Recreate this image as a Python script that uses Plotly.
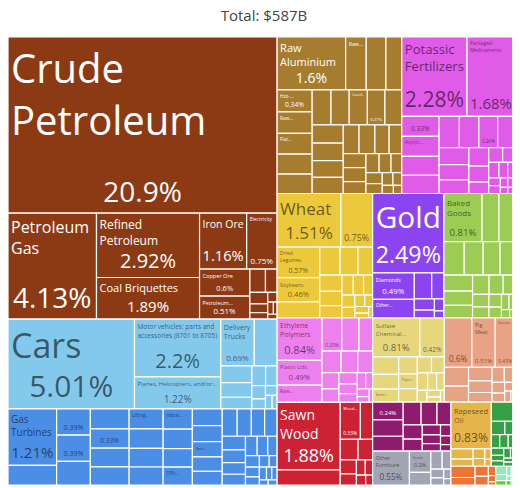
import math
import plotly.graph_objects as go

# export shares (% of total)
mineral_names = ["Crude<br>Petroleum", "Petroleum<br>Gas", "Refined<br>Petroleum", "Coal Briquettes",
                 "Iron Ore", "Electricity", "Copper Ore", "Petroleum...",
                 None, None, None, None, None, None, None, None, None]
mineral_vals = [20.9, 4.13, 2.92, 1.89, 1.16, 0.75, 0.6, 0.51,
                0.16, 0.12, 0.09, 0.07, 0.05, 0.04, 0.03, 0.02, 0.02]

transport_names = ["Cars", "Motor vehicles; parts and<br>accessories (8701 to 8705)",
                   "Planes, Helicopters, and/or...", "Delivery<br>Trucks",
                   None, None, None, None, None, None, None, None, None, None, None]
transport_vals = [5.01, 2.2, 1.22, 0.69, 0.47, 0.23, 0.2, 0.16, 0.12, 0.1, 0.08, 0.06, 0.05, 0.04, 0.03]

machine_names = ["Gas<br>Turbines", None, " ", " ", None, None, " ", None, None, "Lifting...",
                 None, None, None, "Indust...", None, None, "Offic...", None, None, "Swit...",
                 None, None, None, None, None, None, None, None, None, None, None, None,
                 None, None, None, None, None, None, None, None, None, None, None]
machine_vals = [1.21, 0.42, 0.39, 0.39, 0.35, 0.34, 0.33, 0.32, 0.31, 0.3,
                0.29, 0.28, 0.27, 0.26, 0.25, 0.24, 0.23, 0.22, 0.21, 0.2,
                0.19, 0.18, 0.18, 0.17, 0.16, 0.15, 0.14, 0.13, 0.12, 0.11,
                0.1, 0.09, 0.08, 0.07, 0.06, 0.05, 0.05, 0.04, 0.04, 0.03, 0.03, 0.02, 0.02]

metal_names = ["Raw<br>Aluminium", "Raw...", None, None, "Hot-...", "Raw...", "Flat...", None, None,
               None, None, "Coated...", " ", None, None, None, None, None, None, None, None,
               None, None, None, None, None, None, None, None, None, None, None, None, None]
metal_vals = [1.6, 0.48, 0.46, 0.37, 0.34, 0.33, 0.32, 0.31, 0.3, 0.29, 0.28, 0.28, 0.27,
              0.26, 0.25, 0.24, 0.23, 0.22, 0.2, 0.2, 0.18, 0.16, 0.14, 0.14, 0.12, 0.11,
              0.1, 0.09, 0.08, 0.07, 0.06, 0.05, 0.04, 0.03]

chem_names = ["Potassic<br>Fertilizers", "Packaged<br>Medicaments", " ", "Acyclic...", None, None,
              None, None, " ", None, None, None, None, None, None, None, None, None, None,
              None, None, None, None, None, None, None, None]
chem_vals = [2.28, 1.68, 0.33, 0.33, 0.31, 0.3, 0.28, 0.27, 0.26, 0.24, 0.22, 0.2, 0.18, 0.16,
             0.14, 0.1, 0.09, 0.08, 0.07, 0.06, 0.05, 0.04, 0.04, 0.03, 0.03, 0.02, 0.02]

veg_names = ["Wheat", " ", "Dried<br>Legumes", "Soybeans"] + [None] * 17
veg_vals = [1.51, 0.75, 0.57, 0.46, 0.3, 0.25, 0.22, 0.18, 0.16, 0.14, 0.12, 0.1,
            0.09, 0.08, 0.07, 0.06, 0.05, 0.04, 0.04, 0.03, 0.02]

precious_names = ["Gold", "Diamonds", "Other...", None, None, None, None, None, None]
precious_vals = [2.49, 0.49, 0.34, 0.2, 0.14, 0.1, 0.07, 0.05, 0.03]

food_names = ["Baked<br>Goods"] + [None] * 20
food_vals = [0.81, 0.36, 0.34, 0.3, 0.28, 0.25, 0.22, 0.2, 0.18, 0.16, 0.14, 0.12,
             0.1, 0.09, 0.08, 0.07, 0.06, 0.05, 0.04, 0.03, 0.02]

plastic_names = ["Ethylene<br>Polymers", "Plastic Lids", "Raw...", " "] + [None] * 15
plastic_vals = [0.84, 0.49, 0.34, 0.29, 0.25, 0.2, 0.18, 0.16, 0.14, 0.12, 0.1,
                0.09, 0.08, 0.07, 0.06, 0.05, 0.04, 0.03, 0.02]

wood_names = ["Sawn<br>Wood", None, "Wood..."] + [None] * 9
wood_vals = [1.88, 0.42, 0.33, 0.2, 0.16, 0.13, 0.1, 0.08, 0.06, 0.05, 0.04, 0.03]

paper_names = ["Sulfate<br>Chemical...", " ", None, None, "Semi...", None, "Paper..."] + [None] * 10
paper_vals = [0.81, 0.42, 0.2, 0.17, 0.15, 0.14, 0.12, 0.11, 0.1, 0.09, 0.08, 0.07,
              0.06, 0.05, 0.04, 0.03, 0.02]

animal_names = [" ", "Pig<br>Meat", "Bovine..."] + [None] * 12
animal_vals = [0.6, 0.51, 0.43, 0.2, 0.17, 0.14, 0.12, 0.1, 0.08, 0.07, 0.06, 0.05, 0.04, 0.03, 0.02]

instrument_names = [" "] + [None] * 13
instrument_vals = [0.24, 0.22, 0.2, 0.18, 0.16, 0.14, 0.12, 0.1, 0.08, 0.07, 0.06, 0.05, 0.04, 0.03]

misc_names = ["Other<br>Furniture", "Seats"] + [None] * 7
misc_vals = [0.55, 0.2, 0.12, 0.09, 0.07, 0.05, 0.04, 0.03, 0.02]

oil_names = ["Rapeseed<br>Oil"] + [None] * 6
oil_vals = [0.83, 0.1, 0.07, 0.05, 0.04, 0.03, 0.02]

textile_vals = [0.2, 0.08, 0.06, 0.05, 0.05, 0.04, 0.04, 0.03, 0.03, 0.03, 0.02, 0.02, 0.02]
hides_vals = [0.12, 0.08, 0.06, 0.05, 0.03, 0.02, 0.01]
stone_vals = [0.04, 0.03, 0.02, 0.01]
footwear_vals = [0.02, 0.01]
weapons_vals = [0.02, 0.01]

DARK = "rgba(0,0,0,0.58)"
sectors = [
    ("Mineral Products", "#8c3a13", "white", mineral_names, mineral_vals),
    ("Transportation", "#83c9ec", DARK, transport_names, transport_vals),
    ("Machines", "#4b8ee6", DARK, machine_names, machine_vals),
    ("Metals", "#a67c2e", "white", metal_names, metal_vals),
    ("Chemical Products", "#e05be8", DARK, chem_names, chem_vals),
    ("Vegetable Products", "#ecc93a", DARK, veg_names, veg_vals),
    ("Precious Metals", "#8a45f0", "white", precious_names, precious_vals),
    ("Foodstuffs", "#9ccc53", DARK, food_names, food_vals),
    ("Plastics and Rubbers", "#ee7fee", DARK, plastic_names, plastic_vals),
    ("Wood Products", "#cc2233", "white", wood_names, wood_vals),
    ("Paper Goods", "#e6d77d", DARK, paper_names, paper_vals),
    ("Animal Products", "#e8a385", DARK, animal_names, animal_vals),
    ("Instruments", "#8e1b6e", "white", instrument_names, instrument_vals),
    ("Miscellaneous", "#a2a6b4", DARK, misc_names, misc_vals),
    ("Animal and Vegetable Bi-Products", "#e5b54a", DARK, oil_names, oil_vals),
    ("Textiles", "#35a046", "white", [None] * len(textile_vals), textile_vals),
    ("Animal Hides", "#ec7434", "white", [None] * len(hides_vals), hides_vals),
    ("Stone And Glass", "#8eebbe", DARK, [None] * len(stone_vals), stone_vals),
    ("Footwear and Headwear", "#5ccf3a", DARK, [None] * len(footwear_vals), footwear_vals),
    ("Weapons", "#4b4b7a", "white", [None] * len(weapons_vals), weapons_vals),
]

# font sizes of the bigger tiles, the rest follow a rule by share
LABEL_SIZE = {"Crude<br>Petroleum": 40, "Petroleum<br>Gas": 16, "Refined<br>Petroleum": 12,
              "Coal Briquettes": 11, "Iron Ore": 11, "Cars": 34, "Gold": 30,
              "Potassic<br>Fertilizers": 15, "Wheat": 17, "Sawn<br>Wood": 14,
              "Raw<br>Aluminium": 11, "Gas<br>Turbines": 10, "Delivery<br>Trucks": 8,
              "Motor vehicles; parts and<br>accessories (8701 to 8705)": 8,
              "Planes, Helicopters, and/or...": 6, "Packaged<br>Medicaments": 5, "Electricity": 5,
              "Rapeseed<br>Oil": 8, "Ethylene<br>Polymers": 7, "Baked<br>Goods": 8,
              "Dried<br>Legumes": 5}
PCT_SIZE = {"Crude<br>Petroleum": 28, "Petroleum<br>Gas": 28, "Refined<br>Petroleum": 20,
            "Coal Briquettes": 15, "Iron Ore": 16, "Cars": 30, "Gold": 27,
            "Potassic<br>Fertilizers": 26, "Wheat": 17, "Sawn<br>Wood": 18,
            "Raw<br>Aluminium": 14, "Gas<br>Turbines": 15, "Packaged<br>Medicaments": 15,
            "Motor vehicles; parts and<br>accessories (8701 to 8705)": 20,
            "Planes, Helicopters, and/or...": 10, "Electricity": 8, "Delivery<br>Trucks": 8,
            "Rapeseed<br>Oil": 13, "Ethylene<br>Polymers": 11, "Copper Ore": 7.5,
            "Dried<br>Legumes": 7}
NO_PCT = {"Raw...", "Flat...", "Coated...", "Acyclic...", "Other...", "Lifting...",
          "Indust...", "Offic...", "Swit...", "Semi...", "Paper..."}

ids, parents, labels, values, colours = [], [], [], [], []
name_text, pct_text, name_size, pct_size, text_col = [], [], [], [], []
for sector, colour, tcol, names, vals in sectors:
    ids.append(sector)
    parents.append("")
    labels.append(sector)
    values.append(0)
    colours.append(colour)
    name_text.append("")
    pct_text.append("")
    name_size.append(8)
    pct_size.append(8)
    text_col.append(tcol)
    for i, (n, v) in enumerate(zip(names, vals)):
        ids.append(f"{sector}/{i}")
        parents.append(sector)
        labels.append(n.replace("<br>", " ") if n and n.strip() else f"{sector} {i + 1}")
        values.append(v)
        colours.append(colour)
        text_col.append(tcol)
        if n is None:
            name_text.append("")
            pct_text.append("")
        else:
            name_text.append(n)
            pct_text.append("" if n in NO_PCT else f"{v:g}%")
        name_size.append(LABEL_SIZE.get(n, min(8, 2.5 + 4 * math.sqrt(v))))
        pct_size.append(PCT_SIZE.get(n, min(12, 1.5 + 9 * math.sqrt(v))))

common = dict(
    ids=ids, labels=labels, parents=parents, values=values,
    branchvalues="remainder", sort=True,
    tiling=dict(packing="squarify", squarifyratio=1.618, pad=0),
    pathbar=dict(visible=False),
    textinfo="text",
)

fig = go.Figure()
fig.add_trace(go.Treemap(
    **common,
    text=name_text,
    textposition="top left",
    textfont=dict(family="Open Sans", size=name_size, color=text_col),
    marker=dict(colors=colours, line=dict(color="white", width=1.2),
                pad=dict(t=0, l=0, r=0, b=0)),
    hoverinfo="skip",
))
fig.add_trace(go.Treemap(
    **common,
    text=pct_text,
    textposition="bottom center",
    textfont=dict(family="Open Sans", size=pct_size, color=text_col),
    marker=dict(colors=["rgba(0,0,0,0)"] * len(ids), line=dict(width=0),
                pad=dict(t=0, l=0, r=0, b=0)),
    hovertemplate="%{label}<br>%{value}%<extra></extra>",
))

# the page body keeps its 8px margin, so the figure is sized to sit inside the window
fig.update_layout(
    width=512,
    height=480,
    margin=dict(l=0, r=5, t=29, b=3),
    paper_bgcolor="white",
    font=dict(family="Open Sans"),
    title=dict(text="Total: $587B", x=0.5, xanchor="center", y=1, yanchor="top",
               pad=dict(t=2), font=dict(size=15, color="#444444", family="Open Sans")),
    showlegend=False,
)

fig.write_html("out.html")
